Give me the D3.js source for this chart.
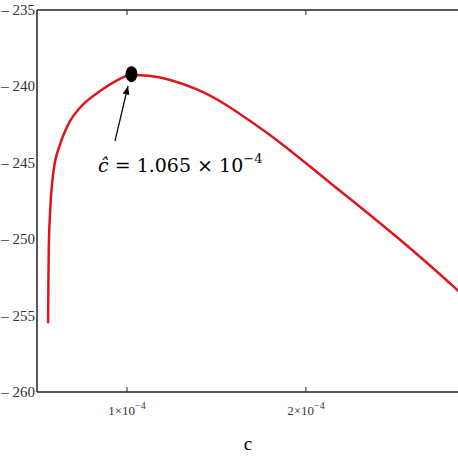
<!DOCTYPE html><html><head><meta charset="utf-8"><script src="https://d3js.org/d3.v7.min.js"></script>
<style>body{margin:0;background:#fff}</style></head><body><svg id="s" width="458" height="458"></svg><script>
const cVals=[0.559,0.561,0.563,0.57,0.59,0.626,0.68,0.737,0.85,0.93,1.025,1.12,1.391,1.760,2.134,2.508,2.844,2.9];
const logL=[-255.5,-252.5,-250.5,-248.3,-245.5,-243.8,-242.3,-241.4,-240.3,-239.7,-239.25,-239.3,-240.2,-242.85,-246.3,-249.86,-253.3,-253.9];
const yTicks=[-235,-240,-245,-250,-255,-260];
const xTicks=[1,2];
const peak={c:1.025,v:-239.2,label:"1.065"};
const svg=d3.select("#s");
const x=d3.scaleLinear().domain([0.497,2.85]).range([37,458]);
const y=d3.scaleLinear().domain([-260,-235]).range([392,10]);
const g=svg.append("g");
g.append("line").attr("x1",37).attr("x2",458).attr("y1",y(-235)).attr("y2",y(-235)).attr("stroke","#222").attr("stroke-width",1.5);
g.append("line").attr("x1",37).attr("x2",458).attr("y1",y(-260)).attr("y2",y(-260)).attr("stroke","#222").attr("stroke-width",1.5);
g.append("line").attr("x1",37).attr("x2",37).attr("y1",y(-235)).attr("y2",y(-260)).attr("stroke","#222").attr("stroke-width",1.5);
yTicks.forEach(t=>{
 g.append("text").attr("x",35).attr("y",y(t)+5).attr("text-anchor","end").attr("font-family","Liberation Serif").attr("font-size",15).attr("fill","#333").text("\u2013 "+(-t));
});
xTicks.forEach(t=>{
 g.append("line").attr("x1",x(t)).attr("x2",x(t)).attr("y1",392).attr("y2",387).attr("stroke","#222");
 g.append("line").attr("x1",x(t)).attr("x2",x(t)).attr("y1",10).attr("y2",15).attr("stroke","#222");
 const tx=g.append("text").attr("x",x(t)).attr("y",415).attr("text-anchor","middle").attr("font-family","Liberation Serif").attr("font-size",13).attr("fill","#333");
 tx.append("tspan").text(t+"\u00d710");
 tx.append("tspan").attr("dy",-6).attr("font-size",10).text("\u22124");
});
g.append("text").attr("x",248).attr("y",450).attr("text-anchor","middle").attr("font-family","Liberation Serif").attr("font-size",19).text("c");
const line=d3.line().x((d,i)=>x(cVals[i])).y(d=>y(d)).curve(d3.curveMonotoneX);
g.append("path").attr("d",line(logL)).attr("fill","none").attr("stroke","#e0151b").attr("stroke-width",2.5);
g.append("ellipse").attr("cx",x(peak.c)).attr("cy",y(peak.v)).attr("rx",6).attr("ry",8).attr("fill","#000");
svg.append("defs").append("marker").attr("id","ah").attr("viewBox","0 0 10 10").attr("refX",10).attr("refY",5).attr("markerWidth",7).attr("markerHeight",7).attr("orient","auto").append("path").attr("d","M0,1L10,5L0,9Z").attr("fill","#000");
g.append("line").attr("x1",115).attr("y1",141).attr("x2",128).attr("y2",86).attr("stroke","#000").attr("stroke-width",1.2).attr("marker-end","url(#ah)");
const an=g.append("text").attr("x",98).attr("y",172).attr("font-family","DejaVu Serif").attr("font-size",19);
an.append("tspan").attr("font-style","italic").text("\u0109");
an.append("tspan").text(" = "+peak.label+" \u00d7 10");
an.append("tspan").attr("dy",-9).attr("font-size",13).text("\u22124");
</script></body></html>
